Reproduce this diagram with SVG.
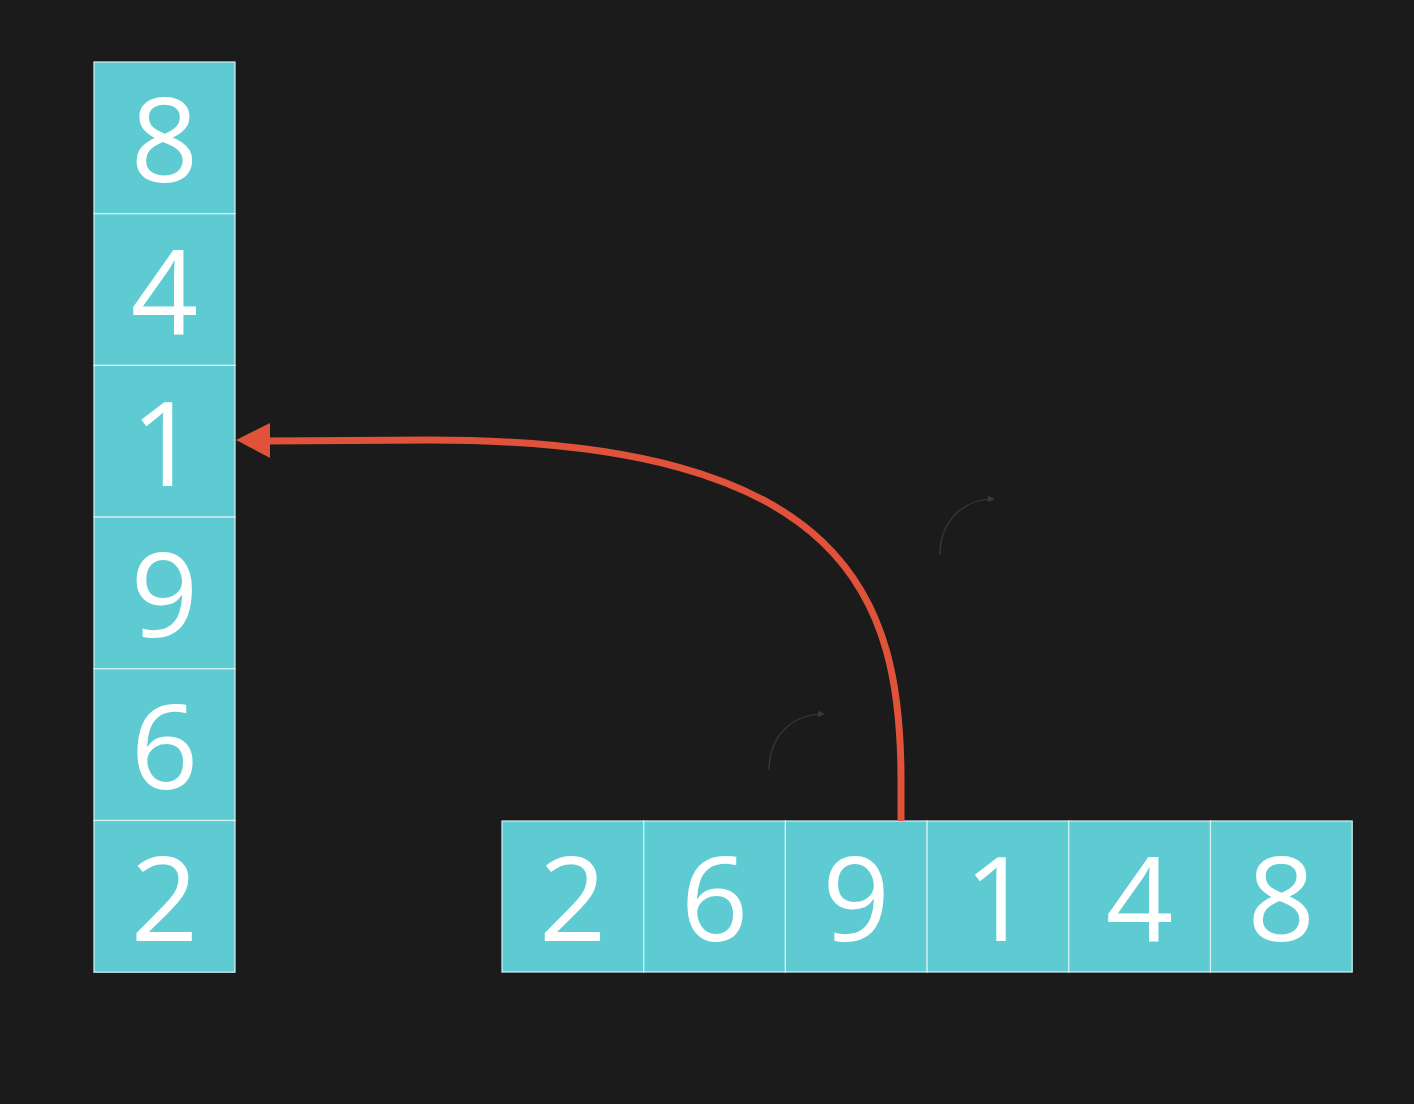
<svg xmlns="http://www.w3.org/2000/svg" width="1414" height="1104" viewBox="0 0 1414 1104">
<defs>
<style>
.cell{fill:#5ecbd3;stroke:#d8f1f3;stroke-width:1.2}
.num{font-family:"Open Sans","DejaVu Sans",sans-serif;font-size:118px;fill:#ffffff;text-anchor:middle}
.faint{fill:none;stroke:#3a3a3a;stroke-width:1.2}
</style>
<marker id="fa" viewBox="0 0 10 10" refX="9" refY="5" markerWidth="7" markerHeight="7" markerUnits="userSpaceOnUse" orient="auto">
<path d="M0 0 L10 5 L0 10 z" fill="#3a3a3a"/>
</marker>
</defs>
<rect width="1414" height="1104" fill="#1b1b1b"/>
<g id="col">
<g id="c8"><rect class="cell" x="94" y="62" width="141" height="151.7"/><text class="num" x="164.5" y="182">8</text></g>
<g id="c4"><rect class="cell" x="94" y="213.7" width="141" height="151.7"/><text class="num" x="164.5" y="334">4</text></g>
<g id="c1"><rect class="cell" x="94" y="365.4" width="141" height="151.7"/><text class="num" x="164.5" y="485.5">1</text></g>
<g id="c9"><rect class="cell" x="94" y="517.1" width="141" height="151.7"/><text class="num" x="164.5" y="637">9</text></g>
<g id="c6"><rect class="cell" x="94" y="668.8" width="141" height="151.7"/><text class="num" x="164.5" y="789">6</text></g>
<g id="c2"><rect class="cell" x="94" y="820.5" width="141" height="151.7"/><text class="num" x="164.5" y="941">2</text></g>
</g>
<g id="row">
<g id="r2"><rect class="cell" x="502" y="821" width="141.7" height="151"/><text class="num" x="572.8" y="941">2</text></g>
<g id="r6"><rect class="cell" x="643.7" y="821" width="141.7" height="151"/><text class="num" x="714.5" y="941">6</text></g>
<g id="r9"><rect class="cell" x="785.4" y="821" width="141.7" height="151"/><text class="num" x="856.2" y="941">9</text></g>
<g id="r1"><rect class="cell" x="927.1" y="821" width="141.7" height="151"/><text class="num" x="997.9" y="941">1</text></g>
<g id="r4"><rect class="cell" x="1068.8" y="821" width="141.7" height="151"/><text class="num" x="1139.6" y="941">4</text></g>
<g id="r8"><rect class="cell" x="1210.5" y="821" width="141.7" height="151"/><text class="num" x="1281.3" y="941">8</text></g>
</g>
<g id="connectors">
<path d="M901 821 L901 780 C901 600 850 440 430 440 L266 441" fill="none" stroke="#e0533a" stroke-width="7"/>
<polygon points="236,440 270,423 270,458" fill="#e0533a"/>
<path class="faint" d="M940 555 C940 522 962 499 994 499" marker-end="url(#fa)"/>
<path class="faint" d="M769 770 C769 737 791 714 824 714" marker-end="url(#fa)"/>
</g>
</svg>
